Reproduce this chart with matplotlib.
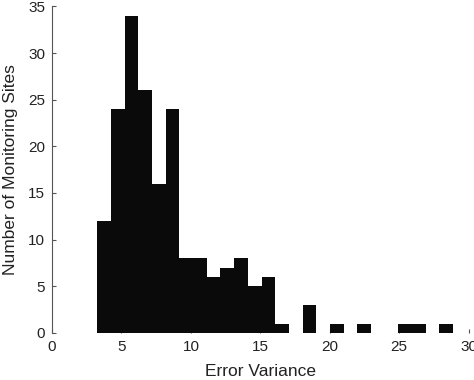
import matplotlib
matplotlib.use("Agg")
import matplotlib.pyplot as plt

bin_edges = [3.27, 4.25, 5.24, 6.22, 7.21, 8.19, 9.18, 10.16, 11.15, 12.13,
             13.12, 14.10, 15.09, 16.07, 17.06, 18.04, 19.03, 20.01, 21.00,
             21.98, 22.97, 23.95, 24.94, 25.92, 26.91, 27.89, 28.88]
counts = [12, 24, 34, 26, 16, 24, 8, 8, 6, 7, 8, 5, 6, 1, 0, 3, 0, 1, 0, 1,
          0, 0, 1, 1, 0, 1]
x_ticks = [0, 5, 10, 15, 20, 25, 30]
y_ticks = [0, 5, 10, 15, 20, 25, 30, 35]

plt.rcParams['font.family'] = ['Liberation Sans', 'DejaVu Sans']

fig = plt.figure(figsize=(4.74, 3.80), dpi=100)
ax = fig.add_axes([0.1097, 0.124, 0.879, 0.859])

lefts = bin_edges[:-1]
widths = [b - a for a, b in zip(bin_edges[:-1], bin_edges[1:])]
ax.bar(lefts, counts, width=widths, align='edge', color='#0a0a0a',
       edgecolor='none', linewidth=0, zorder=3)

ax.set_xlim(0, 30)
ax.set_ylim(0, 35)
ax.set_xticks(x_ticks)
ax.set_yticks(y_ticks)
for s in ['top', 'right', 'bottom']:
    ax.spines[s].set_visible(False)
ax.spines['left'].set_color('#555555')
ax.spines['left'].set_linewidth(0.8)
ax.tick_params(direction='in', length=3, width=0.8, colors='#555555',
               labelcolor='#222222', labelsize=11, pad=5)
ax.set_xlabel('Error Variance', fontsize=12.5, color='#222222', labelpad=7)
ax.set_ylabel('Number of Monitoring Sites', fontsize=12.5, color='#222222', labelpad=7)

fig.savefig('out.png', dpi=100)
